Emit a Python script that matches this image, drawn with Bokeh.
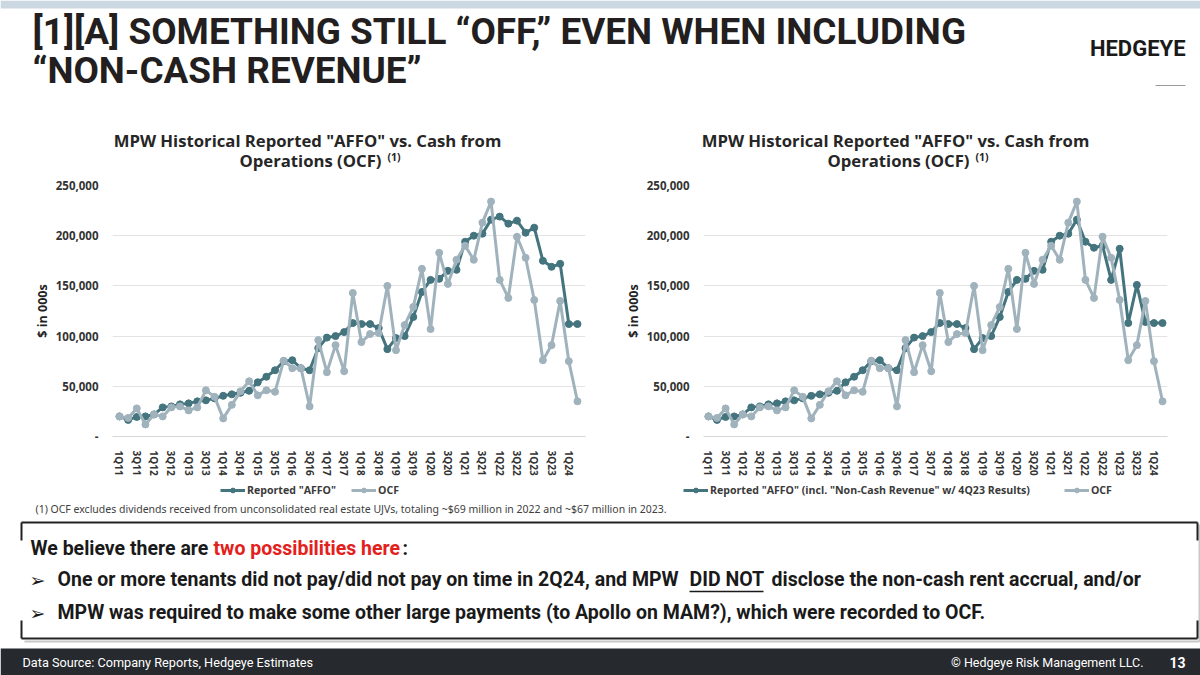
from bokeh.plotting import figure
from bokeh.layouts import column, row
from bokeh.models import Range1d, FixedTicker, Legend, LegendItem, ColumnDataSource
from bokeh.core.properties import value
from bokeh.embed import file_html
from bokeh.resources import INLINE

# ---------------- data ----------------
quarters = ["1Q11", "2Q11", "3Q11", "4Q11", "1Q12", "2Q12", "3Q12", "4Q12",
            "1Q13", "2Q13", "3Q13", "4Q13", "1Q14", "2Q14", "3Q14", "4Q14",
            "1Q15", "2Q15", "3Q15", "4Q15", "1Q16", "2Q16", "3Q16", "4Q16",
            "1Q17", "2Q17", "3Q17", "4Q17", "1Q18", "2Q18", "3Q18", "4Q18",
            "1Q19", "2Q19", "3Q19", "4Q19", "1Q20", "2Q20", "3Q20", "4Q20",
            "1Q21", "2Q21", "3Q21", "4Q21", "1Q22", "2Q22", "3Q22", "4Q22",
            "1Q23", "2Q23", "3Q23", "4Q23", "1Q24", "2Q24"]

affo_reported = [20000, 16500, 19500, 20000, 22000, 29000, 30000, 32000,
                 33000, 35000, 36000, 38000, 40500, 42000, 43500, 45500,
                 54000, 59500, 66000, 75000, 76000, 68000, 66000, 88000,
                 98500, 100000, 104000, 113000, 112000, 112000, 108000, 87000,
                 98000, 100000, 119000, 144000, 156000, 157000, 165000, 166000,
                 194000, 200000, 202000, 216000, 219000, 212000, 215000, 203000,
                 208000, 175000, 169000, 172000, 112000, 112000]

affo_incl_noncash = [20000, 16500, 19500, 20000, 22000, 29000, 30000, 32000,
                     33000, 35000, 36000, 38000, 40500, 42000, 43500, 45500,
                     54000, 59500, 66000, 75000, 76000, 68000, 66000, 88000,
                     98500, 100000, 104000, 113000, 112000, 112000, 108000, 87000,
                     98000, 100000, 119000, 144000, 156000, 157000, 165000, 166000,
                     194000, 200000, 202000, 216000, 194000, 188000, 190000, 156000,
                     187000, 113000, 151000, 114000, 113000, 113000]

ocf = [20000, 18500, 28000, 12000, 22000, 20000, 29000, 30000,
       26000, 29000, 46000, 39500, 18000, 31500, 45000, 55000,
       41000, 46000, 44500, 75500, 68000, 68000, 30000, 96000,
       64000, 91000, 65000, 143000, 94000, 102000, 103000, 150000,
       86000, 111000, 129000, 167000, 107000, 183000, 152000, 176000,
       190000, 176000, 213000, 234000, 156000, 138000, 199000, 178000,
       136000, 76000, 91000, 135000, 75000, 35000]

y_ticks = [0, 50000, 100000, 150000, 200000, 250000]
y_tick_labels = ["-", "50,000", "100,000", "150,000", "200,000", "250,000"]

legend_left = ['Reported "AFFO"', "OCF"]
legend_right = ['Reported "AFFO" (incl. "Non-Cash Revenue" w/ 4Q23 Results)', "OCF"]

# ---------------- styles ----------------
C_AFFO = "#44747e"
C_OCF = "#a0b3bd"
C_TXT = "#333333"
FONT_UI = "Open Sans"
FONT_HEAD = "Roboto"
CHART_H = 303          # charts occupy page y 175 .. 478
BT_H = 675 - 175 - CHART_H


def blank(width, height):
    p = figure(width=width, height=height, x_range=Range1d(0, width),
               y_range=Range1d(height, 0), output_backend="svg",
               toolbar_location=None, x_axis_type=None, y_axis_type=None,
               min_border=0, outline_line_color=None)
    p.grid.visible = False
    p.background_fill_color = "white"
    p.border_fill_color = "white"
    return p


def chart(width, height, affo, b_left, b_right, xr):
    idx = list(range(len(quarters)))
    src = ColumnDataSource(dict(x=idx, affo=affo, ocf=ocf))
    p = figure(width=width, height=height, x_range=Range1d(*xr),
               y_range=Range1d(0, 250000), output_backend="svg",
               toolbar_location=None, min_border_left=b_left,
               min_border_right=b_right, min_border_top=10,
               min_border_bottom=41, outline_line_color=None)
    p.background_fill_color = "white"
    p.border_fill_color = "white"
    p.xgrid.visible = False
    p.ygrid.grid_line_color = "#e3e3e3"
    p.ygrid.grid_line_width = 1

    yax = p.yaxis[0]
    yax.ticker = FixedTicker(ticks=y_ticks)
    yax.major_label_overrides = {t: l for t, l in zip(y_ticks, y_tick_labels)}
    yax.major_tick_line_color = None
    yax.minor_tick_line_color = None
    yax.axis_line_color = None
    yax.major_label_standoff = 8
    yax.major_label_text_font = FONT_UI
    yax.major_label_text_font_style = "bold"
    yax.major_label_text_font_size = "11.5px"
    yax.major_label_text_color = C_TXT
    yax.axis_label = "$ in 000s"
    yax.axis_label_text_font = FONT_UI
    yax.axis_label_text_font_style = "bold"
    yax.axis_label_text_font_size = "12.5px"
    yax.axis_label_text_color = "#222222"
    yax.axis_label_standoff = 2

    xax = p.xaxis[0]
    xax.ticker = FixedTicker(ticks=idx[::2])
    xax.major_label_overrides = {i: quarters[i] for i in idx[::2]}
    xax.major_label_orientation = "vertical"
    xax.major_tick_line_color = None
    xax.minor_tick_line_color = None
    xax.axis_line_color = "#d6d6d6"
    xax.major_label_standoff = 8
    xax.major_label_text_font = FONT_UI
    xax.major_label_text_font_style = "bold"
    xax.major_label_text_font_size = "10px"
    xax.major_label_text_color = C_TXT

    p.line("x", "affo", source=src, line_color=C_AFFO, line_width=3)
    p.scatter("x", "affo", source=src, size=7, fill_color=C_AFFO, line_color=C_AFFO)
    p.line("x", "ocf", source=src, line_color=C_OCF, line_width=3)
    p.scatter("x", "ocf", source=src, size=7, fill_color=C_OCF, line_color=C_OCF)
    return p


# ---------------- header ----------------
hd = blank(1200, 175)
hd.quad(left=[0], right=[1200], top=[0], bottom=[8], fill_color="#cbd7e1", line_color=None)
hd.text(x=[32, 32], y=[31, 70],
        text=["[1][A] SOMETHING STILL \u201cOFF,\u201d EVEN WHEN INCLUDING",
              "\u201cNON-CASH REVENUE\u201d"],
        text_font=value(FONT_HEAD), text_font_style="bold", text_font_size="36.9px",
        text_color="#231f20", text_baseline="middle", text_align="left")
hd.text(x=[1185], y=[48], text=["HEDGEYE"], text_font=value(FONT_HEAD),
        text_font_style="bold", text_font_size="22px", text_color="#1a1a1a",
        text_baseline="middle", text_align="right")
hd.segment(x0=[1155], y0=[85], x1=[1185], y1=[85], line_color="#9a9a9a", line_width=1)
for cx, xend in [(307, 381), (895, 969)]:
    hd.text(x=[cx], y=[140], text=['MPW Historical Reported "AFFO" vs. Cash from'],
            text_font=value(FONT_UI), text_font_style="bold", text_font_size="16.7px",
            text_color="#262626", text_baseline="middle", text_align="center")
    hd.text(x=[xend], y=[160], text=["Operations (OCF)"],
            text_font=value(FONT_UI), text_font_style="bold", text_font_size="16.7px",
            text_color="#262626", text_baseline="middle", text_align="right")
    hd.text(x=[xend + 6], y=[156], text=["(1)"],
            text_font=value(FONT_UI), text_font_style="bold", text_font_size="10.5px",
            text_color="#262626", text_baseline="middle", text_align="left")

# ---------------- charts ----------------
left = chart(615, CHART_H, affo_reported, 112, 30, (-0.81, 53.93))
right = chart(585, CHART_H, affo_incl_noncash, 88, 33, (-0.58, 53.58))

# ---------------- bottom (legends, footnote, box, footer) ----------------
bt = blank(1200, BT_H)
O = 478  # page y of this figure's top


def Y(page_y):
    return page_y - O


# legend swatches: two points placed outside the visible area, used only by the legends
off_x = [-60, -50]
off_y = [-60, -60]
la = bt.line(x=off_x, y=off_y, line_color=C_AFFO, line_width=3)
sa = bt.scatter(x=off_x, y=off_y, size=7, fill_color=C_AFFO, line_color=C_AFFO)
lo = bt.line(x=off_x, y=off_y, line_color=C_OCF, line_width=3)
so = bt.scatter(x=off_x, y=off_y, size=7, fill_color=C_OCF, line_color=C_OCF)
for labels, lx, sp in [(legend_left, 220, 15), (legend_right, 683, 34)]:
    leg = Legend(items=[LegendItem(label=labels[0], renderers=[la, sa], index=0),
                        LegendItem(label=labels[1], renderers=[lo, so], index=0)],
                 orientation="horizontal", location=(lx, BT_H - Y(497)),
                 border_line_color=None, background_fill_alpha=0,
                 label_text_font=FONT_UI, label_text_font_style="bold",
                 label_text_font_size="10.6px", label_text_color="#3a3a3a",
                 glyph_width=25, glyph_height=12, label_standoff=2,
                 spacing=sp, padding=0, margin=0, label_height=12)
    bt.add_layout(leg)

bt.text(x=[35], y=[Y(508)],
        text=["(1) OCF excludes dividends received from unconsolidated real estate UJVs, "
              "totaling ~$69 million in 2022 and ~$67 million in 2023."],
        text_font=value("Noto Sans"), text_font_size="10.5px", text_color="#404040",
        text_baseline="middle", text_align="left")
# box shadow then box
bt.segment(x0=[24, 1199], y0=[Y(641), Y(524)], x1=[1199, 1199], y1=[Y(641), Y(641)],
           line_color="#c8c8c8", line_width=2)
bt.segment(x0=[21, 21, 21, 21, 1197, 1197],
           y0=[Y(522), Y(638), Y(522), Y(620), Y(522), Y(620)],
           x1=[1197, 1197, 21, 21, 1197, 1197],
           y1=[Y(522), Y(638), Y(540), Y(638), Y(540), Y(638)],
           line_color="#222222", line_width=2)
F_BOX = "19.5px"
bt.text(x=[30], y=[Y(548)], text=["We believe there are"], text_font=value(FONT_HEAD),
        text_font_style="bold", text_font_size=F_BOX, text_color="#1a1a1a",
        text_baseline="middle", text_align="left")
bt.text(x=[213], y=[Y(548)], text=["two possibilities here"], text_font=value(FONT_HEAD),
        text_font_style="bold", text_font_size=F_BOX, text_color="#e3201b",
        text_baseline="middle", text_align="left")
bt.text(x=[402], y=[Y(548)], text=[":"], text_font=value(FONT_HEAD),
        text_font_style="bold", text_font_size=F_BOX, text_color="#1a1a1a",
        text_baseline="middle", text_align="left")
bt.text(x=[29, 29], y=[Y(579), Y(612)], text=["\u27a2", "\u27a2"],
        text_font=value("DejaVu Sans"), text_font_size="19px", text_color="#1a1a1a",
        text_baseline="middle", text_align="left")
bt.text(x=[57, 689, 771], y=[Y(579)] * 3,
        text=["One or more tenants did not pay/did not pay on time in 2Q24, and MPW",
              "DID NOT", "disclose the non-cash rent accrual, and/or"],
        text_font=value(FONT_HEAD), text_font_style="bold", text_font_size=F_BOX,
        text_color="#1a1a1a", text_baseline="middle", text_align="left")
bt.segment(x0=[689], y0=[Y(591)], x1=[763], y1=[Y(591)], line_color="#1a1a1a", line_width=1.5)
bt.text(x=[57], y=[Y(612)],
        text=["MPW was required to make some other large payments (to Apollo on MAM?), "
              "which were recorded to OCF."],
        text_font=value(FONT_HEAD), text_font_style="bold", text_font_size=F_BOX,
        text_color="#1a1a1a", text_baseline="middle", text_align="left")
# footer bar
bt.quad(left=[0], right=[1200], top=[Y(648)], bottom=[BT_H], fill_color="#26292d", line_color=None)
bt.text(x=[22], y=[Y(662)], text=["Data Source: Company Reports, Hedgeye Estimates"],
        text_font=value(FONT_HEAD), text_font_size="12.7px", text_color="#ffffff",
        text_baseline="middle", text_align="left")
bt.text(x=[1143], y=[Y(662)], text=["\u00a9 Hedgeye Risk Management LLC."],
        text_font=value(FONT_HEAD), text_font_size="12.5px", text_color="#ffffff",
        text_baseline="middle", text_align="right")
bt.text(x=[1185], y=[Y(662)], text=["13"], text_font=value(FONT_HEAD),
        text_font_style="bold", text_font_size="14px", text_color="#ffffff",
        text_baseline="middle", text_align="right")

layout = column(hd, row(left, right, spacing=0), bt, spacing=0)
open("out.html", "w").write(file_html(layout, INLINE))
